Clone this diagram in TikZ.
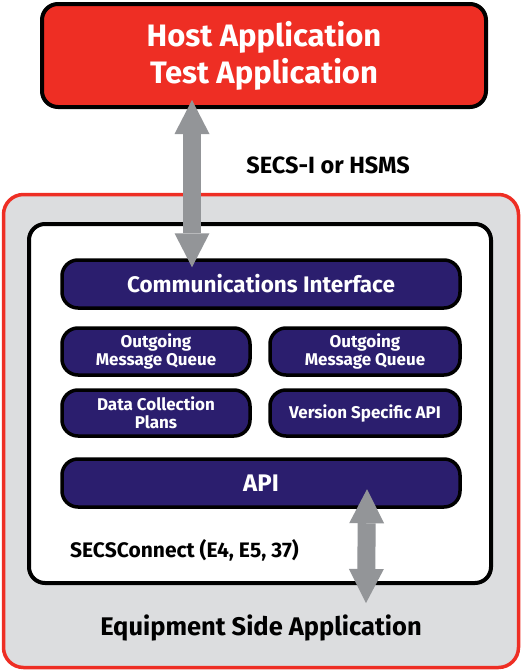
\documentclass[tikz,border=0pt]{standalone}
\usepackage{fontspec}
\setmainfont{Fira Sans}
\usepackage{tikz}
\usetikzlibrary{arrows.meta}

\definecolor{hostred}{HTML}{EE2E24}
\definecolor{panegray}{HTML}{DCDDDF}
\definecolor{modnavy}{HTML}{2B1E6E}
\definecolor{linkgray}{HTML}{939598}

\begin{document}
\begin{tikzpicture}[x=1pt,y=-1pt,
    box/.style={rectangle,rounded corners=16pt,draw=black,line width=3.5pt,
      fill=modnavy,text=white,font=\bfseries,align=center,inner sep=0pt},
    link/.style={draw=linkgray,line width=18pt,
      {Triangle[width=35pt,length=34pt,line width=0pt]}-{Triangle[width=35pt,length=34pt,line width=0pt]}}]
  \useasboundingbox (0,0) rectangle (522,672);

  % Outer: equipment side
  \node[rectangle,rounded corners=20pt,draw=hostred,fill=panegray,line width=3.5pt,
    minimum width=515pt,minimum height=473pt] (equip) at (261,431) {};
  \node[rectangle,rounded corners=16pt,draw=black,fill=white,line width=4pt,
    minimum width=462pt,minimum height=359pt] (secs) at (260,403.5) {};

  % Host on top
  \node[rectangle,rounded corners=16pt,draw=black,fill=hostred,line width=4pt,
    minimum width=444pt,minimum height=103pt,text=white,align=center,
    font=\bfseries\fontsize{31}{37}\selectfont] (host) at (264,55.5)
    {Host Application\\Test Application};

  % Modules
  \node[box,minimum width=398pt,minimum height=48pt,font=\bfseries\fontsize{22.5}{24}\selectfont]
    (comm) at (261,284) {Communications Interface};
  \node[box,minimum width=188pt,minimum height=47pt,font=\bfseries\fontsize{17}{18}\selectfont]
    (outq1) at (156,351.5) {Outgoing\\Message Queue};
  \node[box,minimum width=190pt,minimum height=47pt,font=\bfseries\fontsize{17}{18}\selectfont]
    (outq2) at (365,351.5) {Outgoing\\Message Queue};
  \node[box,minimum width=188pt,minimum height=46pt,font=\bfseries\fontsize{17}{18}\selectfont]
    (dcp) at (156,413) {Data Collection\\Plans};
  \node[box,minimum width=190pt,minimum height=46pt,font=\bfseries\fontsize{17}{18}\selectfont]
    (vsapi) at (365,413) {Version Specific API};
  \node[box,minimum width=398pt,minimum height=48pt,font=\bfseries\fontsize{24}{26}\selectfont]
    (api) at (261,483) {API};

  % Labels
  \node[font=\bfseries\fontsize{23.5}{25}\selectfont] (proto) at (328,165) {SECS-I or HSMS};
  \node[anchor=west,inner sep=0pt,font=\bfseries\fontsize{21}{23}\selectfont]
    (prod) at (70,550) {SECSConnect (E4, E5, 37)};
  \node[font=\bfseries\fontsize{25.5}{27}\selectfont] (eqlabel) at (261,628)
    {Equipment Side Application};

  % Links
  \coordinate (apiend) at ([xshift=106pt,yshift=-18pt]secs.south);
  \draw[link] ([xshift=-72pt,yshift=9pt]host.south) -- ([xshift=-69pt,yshift=-9pt]comm.north);
  \draw[link] ([xshift=106pt,yshift=-32pt]api.north) -- (apiend);
\end{tikzpicture}
\end{document}
